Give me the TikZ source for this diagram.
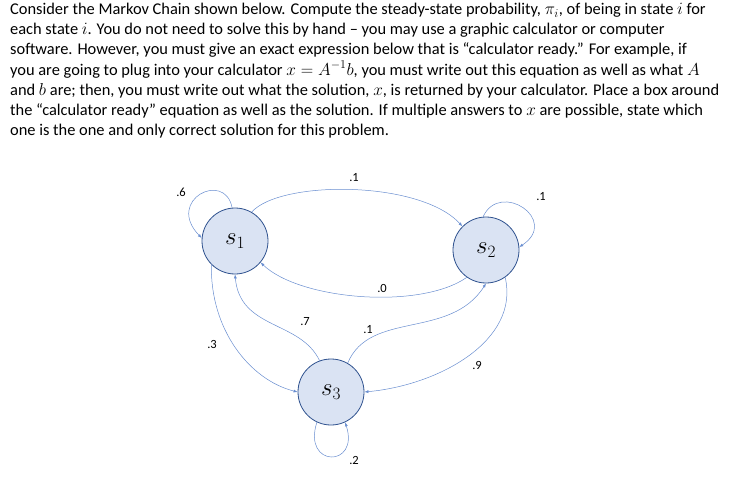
\documentclass[tikz,border=0pt]{standalone}
\usepackage{fontspec}
\setmainfont{Carlito}
\usetikzlibrary{arrows.meta}
\definecolor{edc}{HTML}{4472C4}
\definecolor{stf}{HTML}{DAE3F3}
\definecolor{stb}{HTML}{2F528F}
\begin{document}
\begin{tikzpicture}[x=1pt,y=-1pt,
 st/.style={circle,draw=stb,fill=stf,line width=0.8pt,minimum size=66pt,inner sep=0pt,font=\fontsize{26}{26}\selectfont},
 ed/.style={draw=edc!80!white,line width=0.5pt,-{Latex[length=4pt,width=3pt]}},
 lb/.style={font=\fontsize{12.5}{12.5}\selectfont,inner sep=0pt}]
\useasboundingbox (0,0) rectangle (736,484);
\node[anchor=north west,inner sep=0pt,align=left,font=\fontsize{16.4}{20.2}\selectfont] (txt) at (10,3) {%
Consider the Markov Chain shown below. Compute the steady-state probability, $\pi_i$, of being in state $i$ for\\
each state $i$. You do not need to solve this by hand -- you may use a graphic calculator or computer\\
software. However, you must give an exact expression below that is “calculator ready.” For example, if\\
you are going to plug into your calculator $x = A^{-1}b$, you must write out this equation as well as what $A$\\
and $b$ are; then, you must write out what the solution, $x$, is returned by your calculator. Place a box around\\
the “calculator ready” equation as well as the solution. If multiple answers to $x$ are possible, state which\\
one is the one and only correct solution for this problem.};
\node[st] (s1) at (235,241) {$s_1$};
\node[st] (s2) at (486,250) {$s_2$};
\node[st] (s3) at (331,392) {$s_3$};
\draw[ed] (s1.60) .. controls (280,180) and (420,180) .. (s2.135);
\draw[ed] (s2.235) .. controls (420,310) and (300,300) .. (s1.-40);
\draw[ed] (s1.95) .. controls (225,170) and (165,200) .. (s1.175);
\draw[ed] (s2.95) .. controls (500,180) and (560,220) .. (s2.5);
\draw[ed] (s1.225) .. controls (210,330) and (250,380) .. (s3.180);
\draw[ed] (s3.110) .. controls (300,320) and (240,330) .. (s1.270);
\draw[ed] (s3.60) .. controls (370,310) and (450,340) .. (s2.270);
\draw[ed] (s2.305) .. controls (520,340) and (440,385) .. (s3.0);
\draw[ed] (s3.245) .. controls (302,468) and (360,468) .. (s3.295);
\node[lb] (l1) at (181,192) {.6};
\node[lb] (l2) at (354,178) {.1};
\node[lb] (l3) at (541,197) {.1};
\node[lb] (l4) at (382,288) {.0};
\node[lb] (l5) at (305,322) {.7};
\node[lb] (l6) at (368,330) {.1};
\node[lb] (l7) at (212,344) {.3};
\node[lb] (l8) at (477,365) {.9};
\node[lb] (l9) at (354,460) {.2};
\end{tikzpicture}
\end{document}
